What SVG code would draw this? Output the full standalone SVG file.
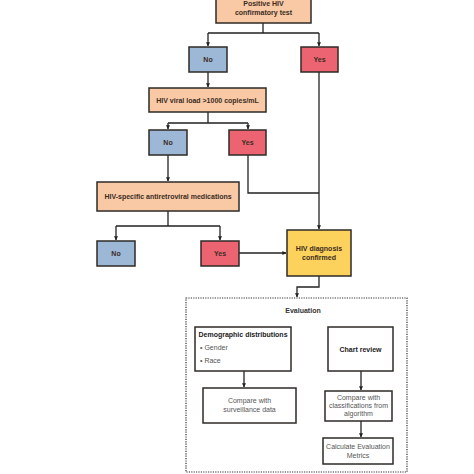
<svg xmlns="http://www.w3.org/2000/svg" width="474" height="474" viewBox="0 0 474 474">
<defs>
<marker id="ah" viewBox="0 0 6 6" refX="5.5" refY="3" markerWidth="4" markerHeight="4" orient="auto" markerUnits="userSpaceOnUse">
<path d="M0,0 L6,3 L0,6 z" fill="#222"/>
</marker>
<style>
.box{stroke:#2e2a26;stroke-width:1.5}
.peach{fill:#f9c9a6}
.blue{fill:#9db7d6}
.red{fill:#ec6472}
.yellow{fill:#fdd25c}
.white{fill:#fff}
.t{font-family:"Liberation Sans",Arial,sans-serif;font-size:7px;font-weight:bold;fill:#3a2c22;text-anchor:middle}
.g{font-family:"Liberation Sans",Arial,sans-serif;font-size:7px;fill:#555;text-anchor:middle}
.c{fill:none;stroke:#222;stroke-width:1.3}
</style>
</defs>
<rect width="474" height="474" fill="#fff"/>
<g id="connectors">
<path class="c" d="M263,23 V33 M208,33 H319" />
<path class="c" d="M208,33 V46" marker-end="url(#ah)"/>
<path class="c" d="M319,33 V46" marker-end="url(#ah)"/>
<path class="c" d="M208,72 V87" marker-end="url(#ah)"/>
<path class="c" d="M208,112 V123 M168,123 H248"/>
<path class="c" d="M168,123 V129" marker-end="url(#ah)"/>
<path class="c" d="M248,123 V129" marker-end="url(#ah)"/>
<path class="c" d="M168,155 V181" marker-end="url(#ah)"/>
<path class="c" d="M248,155 V193 H319"/>
<path class="c" d="M319,72 V229" marker-end="url(#ah)"/>
<path class="c" d="M168,211 V226 M116,226 H220"/>
<path class="c" d="M116,226 V240" marker-end="url(#ah)"/>
<path class="c" d="M220,226 V240" marker-end="url(#ah)"/>
<path class="c" d="M239,253 H286" marker-end="url(#ah)"/>
<path class="c" d="M319,276 V287 H297 V297" marker-end="url(#ah)"/>
<path class="c" d="M244,371 V387" marker-end="url(#ah)"/>
<path class="c" d="M361,371 V390" marker-end="url(#ah)"/>
<path class="c" d="M361,421 V437" marker-end="url(#ah)"/>
</g>
<g id="positive">
<rect class="box peach" x="216" y="-6" width="95" height="29"/>
<text class="t" x="263.5" y="6">Positive HIV</text>
<text class="t" x="263.5" y="15">confirmatory test</text>
</g>
<g id="no1"><rect class="box blue" x="189" y="47" width="38" height="25"/><text class="t" x="208" y="62">No</text></g>
<g id="yes1"><rect class="box red" x="301" y="47" width="37" height="25"/><text class="t" x="319.5" y="62">Yes</text></g>
<g id="viral"><rect class="box peach" x="149" y="88" width="117" height="24"/><text class="t" x="207.5" y="102.5">HIV viral load &gt;1000 copies/mL</text></g>
<g id="no2"><rect class="box blue" x="149" y="130" width="38" height="25"/><text class="t" x="168" y="145">No</text></g>
<g id="yes2"><rect class="box red" x="229" y="130" width="37" height="25"/><text class="t" x="247.5" y="145">Yes</text></g>
<g id="meds"><rect class="box peach" x="97" y="182" width="142" height="29"/><text class="t" x="168" y="199">HIV-specific antiretroviral medications</text></g>
<g id="no3"><rect class="box blue" x="97" y="241" width="38" height="25"/><text class="t" x="116" y="256">No</text></g>
<g id="yes3"><rect class="box red" x="201" y="241" width="38" height="25"/><text class="t" x="220" y="256">Yes</text></g>
<g id="diagnosis"><rect class="box yellow" x="287" y="230" width="64" height="46"/><text class="t" x="319" y="251">HIV diagnosis</text><text class="t" x="319" y="260">confirmed</text></g>
<g id="evaluation">
<rect x="186" y="298" width="221" height="174" fill="none" stroke="#333" stroke-width="1.2" stroke-dasharray="1.2,1.2"/>
<text class="t" x="303" y="313" style="fill:#333">Evaluation</text>
</g>
<g id="demographic">
<rect class="box white" x="195" y="327" width="96" height="44"/>
<text class="t" x="243" y="337" style="fill:#222">Demographic distributions</text>
<text class="g" x="200" y="350" style="text-anchor:start">•  Gender</text>
<text class="g" x="200" y="363" style="text-anchor:start">•  Race</text>
</g>
<g id="chart"><rect class="box white" x="328" y="327" width="65" height="44"/><text class="t" x="360.5" y="352" style="fill:#222">Chart review</text></g>
<g id="surveillance"><rect class="box white" x="203" y="388" width="93" height="35"/><text class="g" x="249.5" y="403">Compare with</text><text class="g" x="249.5" y="411.5">surveillance data</text></g>
<g id="classifications"><rect class="box white" x="325" y="391" width="67" height="30"/><text class="g" x="358.5" y="400">Compare with</text><text class="g" x="358.5" y="408">classifications from</text><text class="g" x="358.5" y="416">algorithm</text></g>
<g id="metrics"><rect class="box white" x="323" y="438" width="70" height="26"/><text class="g" x="358" y="449">Calculate Evaluation</text><text class="g" x="358" y="457.5">Metrics</text></g>
</svg>
